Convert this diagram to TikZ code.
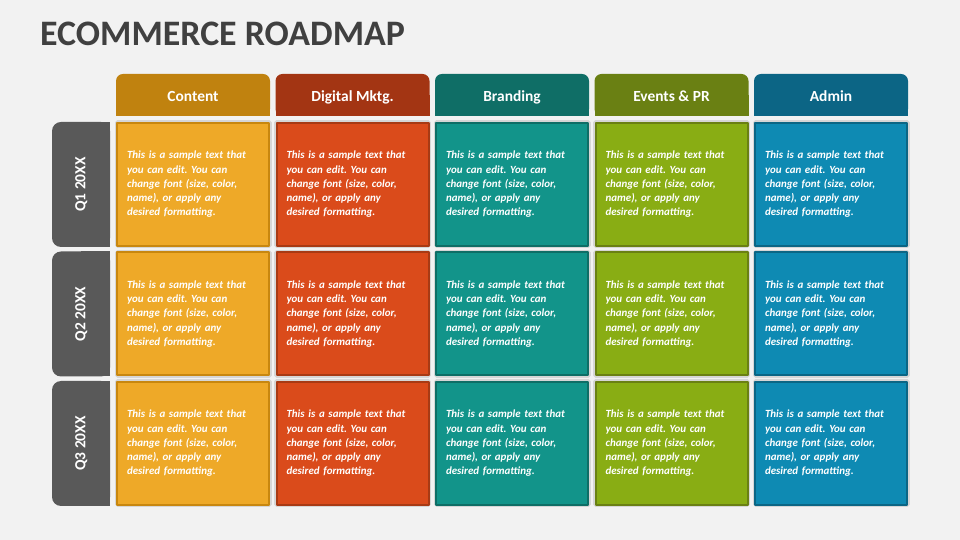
\documentclass[tikz,border=0pt]{standalone}
\usepackage{fontspec}
\setmainfont{Carlito}
\frenchspacing
\definecolor{bgGray}{HTML}{F2F2F2}
\definecolor{titleGray}{HTML}{404040}
\definecolor{rowGray}{HTML}{595959}
\definecolor{contentHead}{HTML}{C0820F}
\definecolor{contentFill}{HTML}{EEA928}
\definecolor{contentLine}{HTML}{C8870F}
\definecolor{digitalHead}{HTML}{A33513}
\definecolor{digitalFill}{HTML}{DA4B1B}
\definecolor{digitalLine}{HTML}{A83A14}
\definecolor{brandHead}{HTML}{0F6E66}
\definecolor{brandFill}{HTML}{12948A}
\definecolor{brandLine}{HTML}{0E6E66}
\definecolor{eventsHead}{HTML}{6A8013}
\definecolor{eventsFill}{HTML}{89AD14}
\definecolor{eventsLine}{HTML}{6A8013}
\definecolor{adminHead}{HTML}{0C6585}
\definecolor{adminFill}{HTML}{0E8AB3}
\definecolor{adminLine}{HTML}{0B6685}
\newcommand{\sampletext}{This is a sample text that\\ you can edit. You can\\ change font (size, color,\\ name), or apply any\\ desired formatting.}
\tikzset{
  head/.style={text=white, text height=0.7em, text depth=0.2em, font=\fontsize{15.5}{18}\selectfont\bfseries},
  rowlabel/.style={text=white, rotate=90, text height=0.7em, text depth=0.2em, font=\fontsize{15.5}{18}\selectfont\bfseries},
  cell/.style={rectangle, minimum width=152bp, minimum height=123bp, line width=2bp,
    text width=132bp, align=left, inner sep=0pt, text=white,
    font=\fontsize{11}{14.3}\selectfont\bfseries\itshape,
    preaction={draw=black!16, line width=5bp}},
}
\begin{document}
\begin{tikzpicture}[line join=bevel,]
%%
\fill [bgGray] (0bp,0bp) rectangle (960bp,540bp);
\useasboundingbox (0bp,0bp) rectangle (960bp,540bp);
\node (title) at (40bp,494bp) [anchor=base west,inner sep=0pt,text=titleGray,font=\fontsize{36}{40}\selectfont\bfseries] {ECOMMERCE ROADMAP};
%% headers
\fill [contentHead,rounded corners=7bp] (116bp,424bp) rectangle (270bp,466bp);
\fill [contentHead] (116bp,424bp) rectangle (270bp,445bp);
\fill [digitalHead,rounded corners=7bp] (275.5bp,424bp) rectangle (429.5bp,466bp);
\fill [digitalHead] (275.5bp,424bp) rectangle (429.5bp,445bp);
\fill [brandHead,rounded corners=7bp] (435bp,424bp) rectangle (589bp,466bp);
\fill [brandHead] (435bp,424bp) rectangle (589bp,445bp);
\fill [eventsHead,rounded corners=7bp] (594.5bp,424bp) rectangle (748.5bp,466bp);
\fill [eventsHead] (594.5bp,424bp) rectangle (748.5bp,445bp);
\fill [adminHead,rounded corners=7bp] (754bp,424bp) rectangle (908bp,466bp);
\fill [adminHead] (754bp,424bp) rectangle (908bp,445bp);
\node (head_0) at (193bp,441bp) [head] {Content};
  \node (head_1) at (352.5bp,441bp) [head] {Digital Mktg.};
  \node (head_2) at (512bp,441bp) [head] {Branding};
  \node (head_3) at (671.5bp,441bp) [head] {Events \& PR};
  \node (head_4) at (831bp,441bp) [head] {Admin};
%% row labels
\fill [rowGray,rounded corners=9bp] (52bp,293bp) rectangle (110bp,418bp);
\fill [rowGray] (81bp,293bp) rectangle (110bp,418bp);
\fill [rowGray,rounded corners=9bp] (52bp,163.5bp) rectangle (110bp,288.5bp);
\fill [rowGray] (81bp,163.5bp) rectangle (110bp,288.5bp);
\fill [rowGray,rounded corners=9bp] (52bp,34bp) rectangle (110bp,159bp);
\fill [rowGray] (81bp,34bp) rectangle (110bp,159bp);
\node (row_0) at (83bp,355.5bp) [rowlabel] {Q1 20XX};
  \node (row_1) at (83bp,226bp) [rowlabel] {Q2 20XX};
  \node (row_2) at (83bp,96.5bp) [rowlabel] {Q3 20XX};
%% cells
\node (cell_0_0) at (193bp,355.5bp) [cell,fill=contentFill,draw=contentLine] {\sampletext};
  \node (cell_0_1) at (352.5bp,355.5bp) [cell,fill=digitalFill,draw=digitalLine] {\sampletext};
  \node (cell_0_2) at (512bp,355.5bp) [cell,fill=brandFill,draw=brandLine] {\sampletext};
  \node (cell_0_3) at (671.5bp,355.5bp) [cell,fill=eventsFill,draw=eventsLine] {\sampletext};
  \node (cell_0_4) at (831bp,355.5bp) [cell,fill=adminFill,draw=adminLine] {\sampletext};
  \node (cell_1_0) at (193bp,226bp) [cell,fill=contentFill,draw=contentLine] {\sampletext};
  \node (cell_1_1) at (352.5bp,226bp) [cell,fill=digitalFill,draw=digitalLine] {\sampletext};
  \node (cell_1_2) at (512bp,226bp) [cell,fill=brandFill,draw=brandLine] {\sampletext};
  \node (cell_1_3) at (671.5bp,226bp) [cell,fill=eventsFill,draw=eventsLine] {\sampletext};
  \node (cell_1_4) at (831bp,226bp) [cell,fill=adminFill,draw=adminLine] {\sampletext};
  \node (cell_2_0) at (193bp,96.5bp) [cell,fill=contentFill,draw=contentLine] {\sampletext};
  \node (cell_2_1) at (352.5bp,96.5bp) [cell,fill=digitalFill,draw=digitalLine] {\sampletext};
  \node (cell_2_2) at (512bp,96.5bp) [cell,fill=brandFill,draw=brandLine] {\sampletext};
  \node (cell_2_3) at (671.5bp,96.5bp) [cell,fill=eventsFill,draw=eventsLine] {\sampletext};
  \node (cell_2_4) at (831bp,96.5bp) [cell,fill=adminFill,draw=adminLine] {\sampletext};
%
\end{tikzpicture}
\end{document}
